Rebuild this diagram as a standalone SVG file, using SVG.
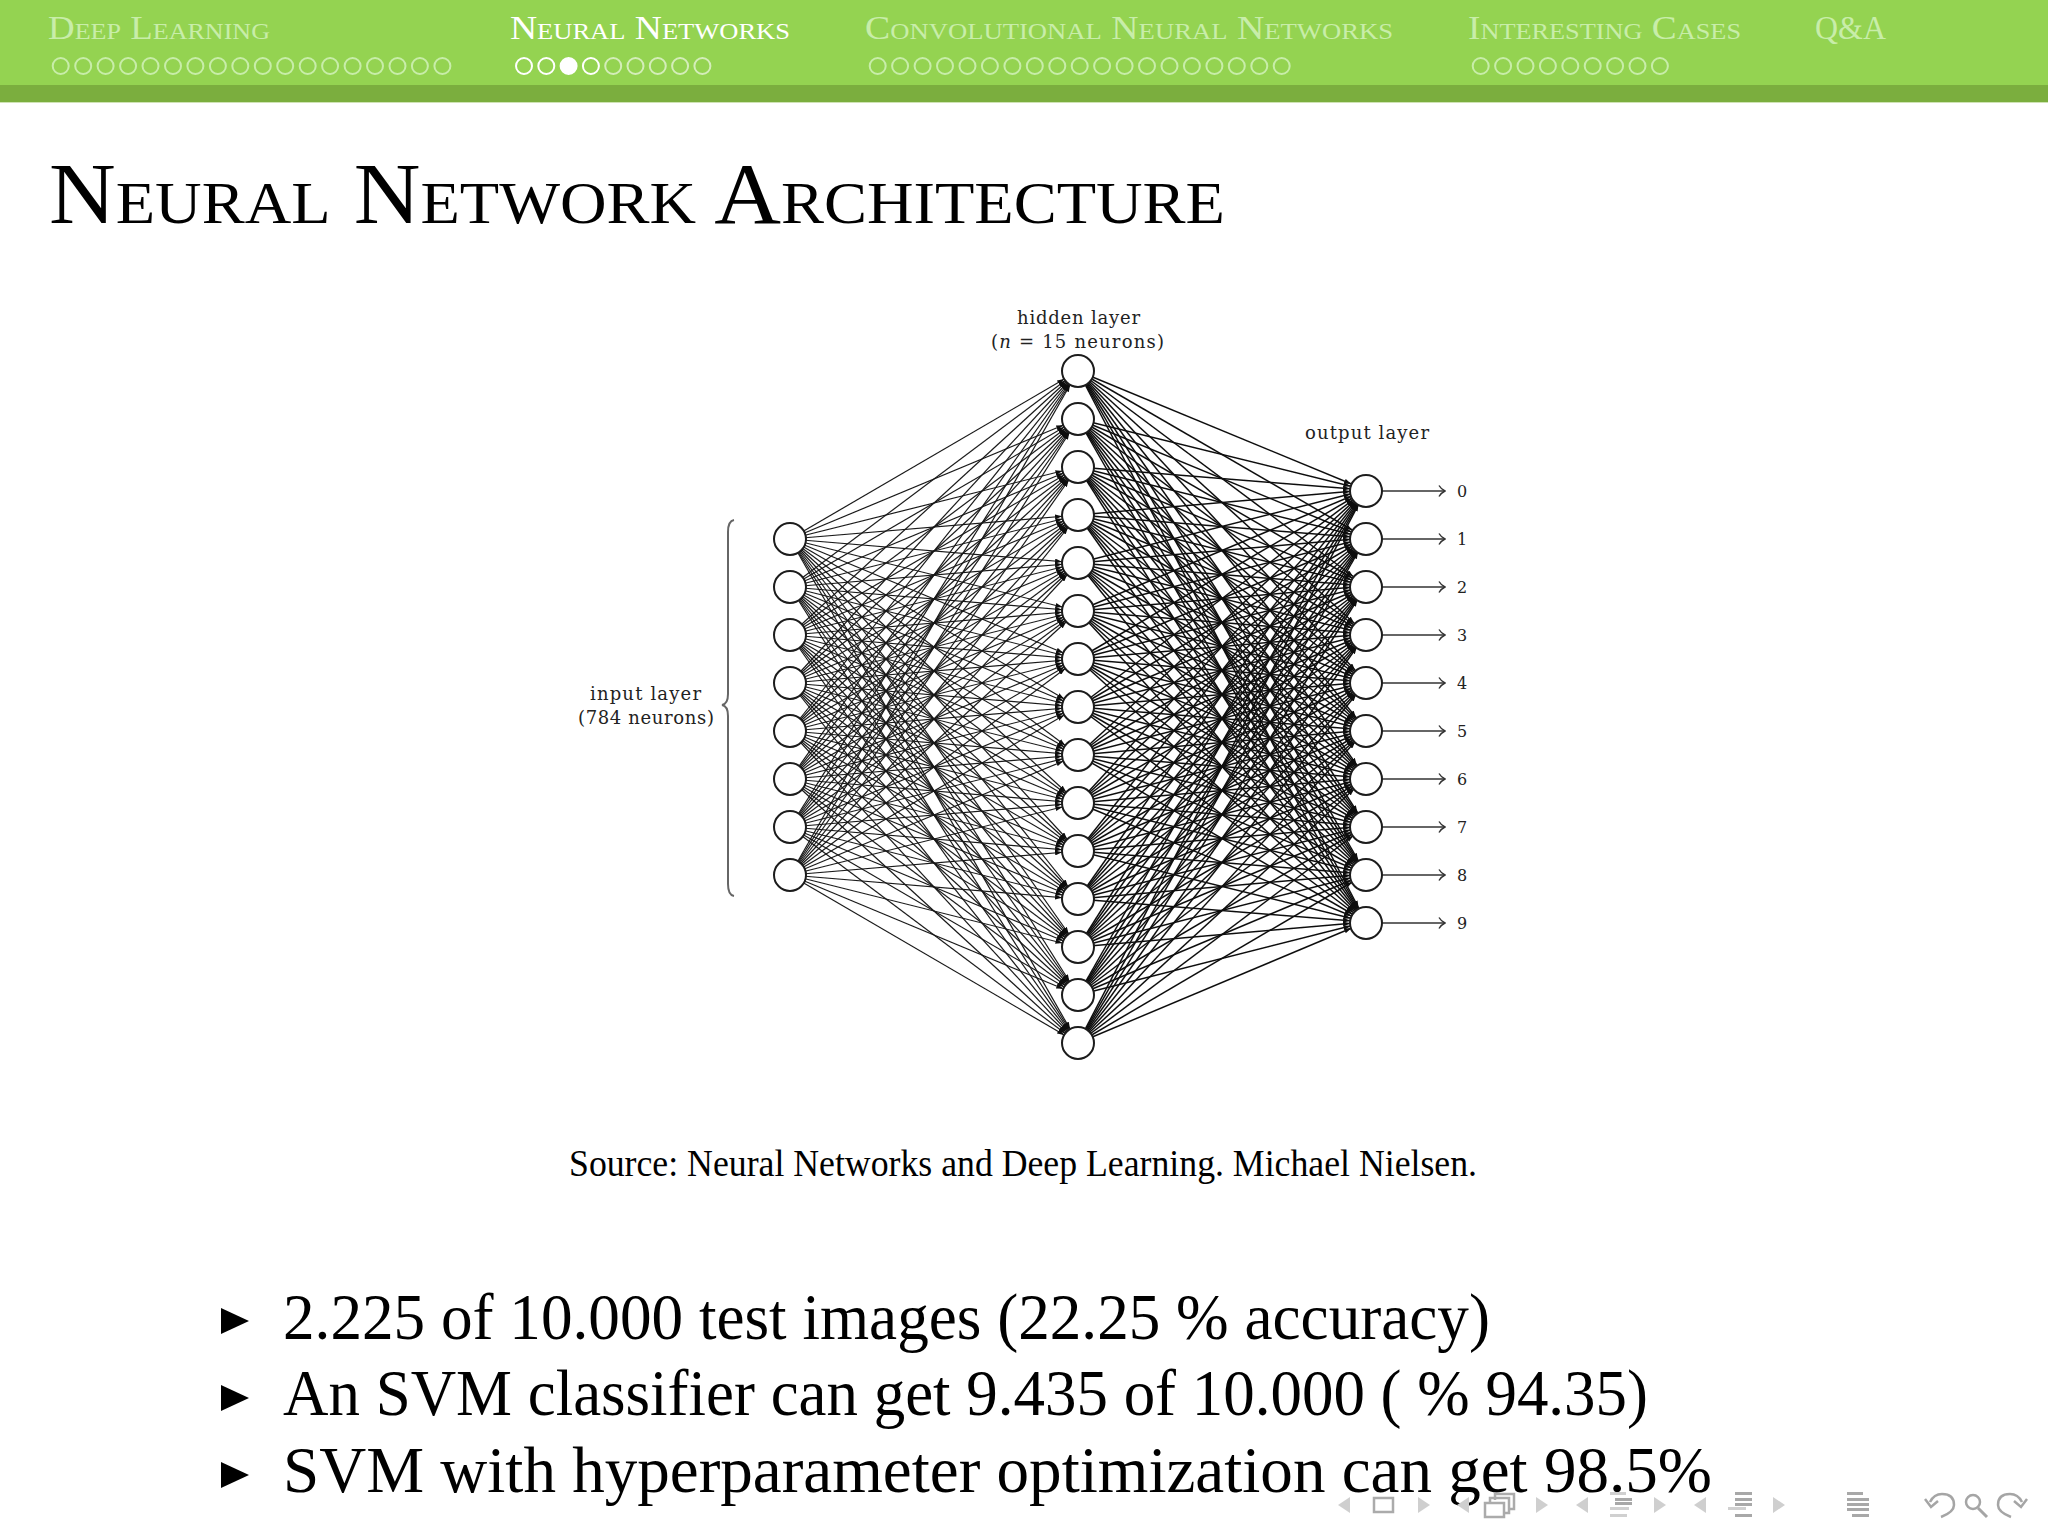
<svg xmlns="http://www.w3.org/2000/svg" width="2048" height="1536" viewBox="0 0 2048 1536">
<defs>
<style>
text{font-family:"Liberation Serif","Times New Roman",serif}
.nav{font-size:34px;font-variant:small-caps;fill:#c8eda9}
.on{fill:#fff}
.d{fill:none;stroke:#c8eda9;stroke-width:2}
.d.w{stroke:#fff}
.body{font-size:65px;fill:#000}
.lab{font-size:18px;fill:#222;font-family:"DejaVu Serif","Liberation Serif",serif}
.dig{font-size:16px;fill:#222;text-anchor:middle;font-family:"DejaVu Serif","Liberation Serif",serif}
.n{fill:#fff;stroke:#1c1c1c;stroke-width:2}
#conn path{fill:none;stroke:#1a1a1a;stroke-width:1.2;marker-end:url(#ah)}
#conn .b path{stroke:#111;stroke-width:1.5}
#outs path{fill:none;stroke:#333;stroke-width:1.6;marker-end:url(#oa)}
.t1{fill:#cfcfcf}
.ic{fill:none;stroke:#ababab;stroke-width:2.5}
.bar{fill:#a8a8a8}
.bar2{fill:#d0d0d0}
</style>
<filter id="soft" x="-5%" y="-5%" width="110%" height="110%"><feGaussianBlur stdDeviation="0.45"/></filter>
<marker id="ah" markerUnits="userSpaceOnUse" markerWidth="7" markerHeight="5" refX="23" refY="2.5" orient="auto"><path d="M0 0L7 2.5 0 5z" fill="#111"/></marker>
<marker id="oa" markerUnits="userSpaceOnUse" markerWidth="8" markerHeight="12" refX="7" refY="6" orient="auto"><path d="M1 .5Q3 4 7 6 3 8 1 11.5" fill="none" stroke="#333" stroke-width="1.4"/></marker>
</defs>
<rect width="2048" height="1536" fill="#fff"/>
<g id="navbar">
<rect width="2048" height="85" fill="#94d351"/>
<rect y="85" width="2048" height="17" fill="#7bae3e"/>
<rect y="102" width="2048" height="1" fill="#cfe3b4"/>
<text class="nav" x="48" y="39" textLength="222" lengthAdjust="spacingAndGlyphs">Deep Learning</text>
<text class="nav on" x="510" y="39" textLength="280" lengthAdjust="spacingAndGlyphs">Neural Networks</text>
<text class="nav" x="865" y="39" textLength="528" lengthAdjust="spacingAndGlyphs">Convolutional Neural Networks</text>
<text class="nav" x="1468" y="39" textLength="273" lengthAdjust="spacingAndGlyphs">Interesting Cases</text>
<text class="nav" x="1815" y="39" textLength="71" lengthAdjust="spacingAndGlyphs">Q&amp;A</text>
<g id="dots1" class="d">
<circle cx="60.7" cy="66" r="8"/><circle cx="83.2" cy="66" r="8"/><circle cx="105.6" cy="66" r="8"/><circle cx="128.1" cy="66" r="8"/><circle cx="150.5" cy="66" r="8"/><circle cx="173" cy="66" r="8"/><circle cx="195.4" cy="66" r="8"/><circle cx="217.9" cy="66" r="8"/><circle cx="240.3" cy="66" r="8"/><circle cx="262.8" cy="66" r="8"/><circle cx="285.2" cy="66" r="8"/><circle cx="307.7" cy="66" r="8"/><circle cx="330.1" cy="66" r="8"/><circle cx="352.6" cy="66" r="8"/><circle cx="375" cy="66" r="8"/><circle cx="397.5" cy="66" r="8"/><circle cx="419.9" cy="66" r="8"/><circle cx="442.4" cy="66" r="8"/>
</g>
<g id="dots2" class="d w">
<circle cx="524" cy="66" r="8"/><circle cx="546.3" cy="66" r="8"/><circle cx="568.6" cy="66" r="8" fill="#fff"/><circle cx="590.9" cy="66" r="8"/><circle cx="613.2" cy="66" r="8" opacity=".6"/><circle cx="635.5" cy="66" r="8" opacity=".6"/><circle cx="657.8" cy="66" r="8" opacity=".6"/><circle cx="680.1" cy="66" r="8" opacity=".6"/><circle cx="702.4" cy="66" r="8" opacity=".6"/>
</g>
<g id="dots3" class="d">
<circle cx="877.7" cy="66" r="8"/><circle cx="900.1" cy="66" r="8"/><circle cx="922.6" cy="66" r="8"/><circle cx="945" cy="66" r="8"/><circle cx="967.5" cy="66" r="8"/><circle cx="989.9" cy="66" r="8"/><circle cx="1012.4" cy="66" r="8"/><circle cx="1034.8" cy="66" r="8"/><circle cx="1057.3" cy="66" r="8"/><circle cx="1079.7" cy="66" r="8"/><circle cx="1102.1" cy="66" r="8"/><circle cx="1124.6" cy="66" r="8"/><circle cx="1147" cy="66" r="8"/><circle cx="1169.5" cy="66" r="8"/><circle cx="1191.9" cy="66" r="8"/><circle cx="1214.4" cy="66" r="8"/><circle cx="1236.8" cy="66" r="8"/><circle cx="1259.3" cy="66" r="8"/><circle cx="1281.7" cy="66" r="8"/>
</g>
<g id="dots4" class="d">
<circle cx="1480.7" cy="66" r="8"/><circle cx="1503.1" cy="66" r="8"/><circle cx="1525.5" cy="66" r="8"/><circle cx="1547.9" cy="66" r="8"/><circle cx="1570.3" cy="66" r="8"/><circle cx="1592.7" cy="66" r="8"/><circle cx="1615.1" cy="66" r="8"/><circle cx="1637.5" cy="66" r="8"/><circle cx="1659.9" cy="66" r="8"/>
</g>
</g>
<text id="title" x="49" y="223" font-size="86" font-variant="small-caps" textLength="1176" lengthAdjust="spacingAndGlyphs">Neural Network Architecture</text>
<g id="conn" filter="url(#soft)">
<path d="M790 539 1078 371"/><path d="M790 539 1078 419"/><path d="M790 539 1078 467"/><path d="M790 539 1078 515"/><path d="M790 539 1078 563"/><path d="M790 539 1078 611"/><path d="M790 539 1078 659"/><path d="M790 539 1078 707"/><path d="M790 539 1078 755"/><path d="M790 539 1078 803"/><path d="M790 539 1078 851"/><path d="M790 539 1078 899"/><path d="M790 539 1078 947"/><path d="M790 539 1078 995"/><path d="M790 539 1078 1043"/>
<path d="M790 587 1078 371"/><path d="M790 587 1078 419"/><path d="M790 587 1078 467"/><path d="M790 587 1078 515"/><path d="M790 587 1078 563"/><path d="M790 587 1078 611"/><path d="M790 587 1078 659"/><path d="M790 587 1078 707"/><path d="M790 587 1078 755"/><path d="M790 587 1078 803"/><path d="M790 587 1078 851"/><path d="M790 587 1078 899"/><path d="M790 587 1078 947"/><path d="M790 587 1078 995"/><path d="M790 587 1078 1043"/>
<path d="M790 635 1078 371"/><path d="M790 635 1078 419"/><path d="M790 635 1078 467"/><path d="M790 635 1078 515"/><path d="M790 635 1078 563"/><path d="M790 635 1078 611"/><path d="M790 635 1078 659"/><path d="M790 635 1078 707"/><path d="M790 635 1078 755"/><path d="M790 635 1078 803"/><path d="M790 635 1078 851"/><path d="M790 635 1078 899"/><path d="M790 635 1078 947"/><path d="M790 635 1078 995"/><path d="M790 635 1078 1043"/>
<path d="M790 683 1078 371"/><path d="M790 683 1078 419"/><path d="M790 683 1078 467"/><path d="M790 683 1078 515"/><path d="M790 683 1078 563"/><path d="M790 683 1078 611"/><path d="M790 683 1078 659"/><path d="M790 683 1078 707"/><path d="M790 683 1078 755"/><path d="M790 683 1078 803"/><path d="M790 683 1078 851"/><path d="M790 683 1078 899"/><path d="M790 683 1078 947"/><path d="M790 683 1078 995"/><path d="M790 683 1078 1043"/>
<path d="M790 731 1078 371"/><path d="M790 731 1078 419"/><path d="M790 731 1078 467"/><path d="M790 731 1078 515"/><path d="M790 731 1078 563"/><path d="M790 731 1078 611"/><path d="M790 731 1078 659"/><path d="M790 731 1078 707"/><path d="M790 731 1078 755"/><path d="M790 731 1078 803"/><path d="M790 731 1078 851"/><path d="M790 731 1078 899"/><path d="M790 731 1078 947"/><path d="M790 731 1078 995"/><path d="M790 731 1078 1043"/>
<path d="M790 779 1078 371"/><path d="M790 779 1078 419"/><path d="M790 779 1078 467"/><path d="M790 779 1078 515"/><path d="M790 779 1078 563"/><path d="M790 779 1078 611"/><path d="M790 779 1078 659"/><path d="M790 779 1078 707"/><path d="M790 779 1078 755"/><path d="M790 779 1078 803"/><path d="M790 779 1078 851"/><path d="M790 779 1078 899"/><path d="M790 779 1078 947"/><path d="M790 779 1078 995"/><path d="M790 779 1078 1043"/>
<path d="M790 827 1078 371"/><path d="M790 827 1078 419"/><path d="M790 827 1078 467"/><path d="M790 827 1078 515"/><path d="M790 827 1078 563"/><path d="M790 827 1078 611"/><path d="M790 827 1078 659"/><path d="M790 827 1078 707"/><path d="M790 827 1078 755"/><path d="M790 827 1078 803"/><path d="M790 827 1078 851"/><path d="M790 827 1078 899"/><path d="M790 827 1078 947"/><path d="M790 827 1078 995"/><path d="M790 827 1078 1043"/>
<path d="M790 875 1078 371"/><path d="M790 875 1078 419"/><path d="M790 875 1078 467"/><path d="M790 875 1078 515"/><path d="M790 875 1078 563"/><path d="M790 875 1078 611"/><path d="M790 875 1078 659"/><path d="M790 875 1078 707"/><path d="M790 875 1078 755"/><path d="M790 875 1078 803"/><path d="M790 875 1078 851"/><path d="M790 875 1078 899"/><path d="M790 875 1078 947"/><path d="M790 875 1078 995"/><path d="M790 875 1078 1043"/>
<g class="b">
<path d="M1078 371 1366 490"/><path d="M1078 371 1366 538"/><path d="M1078 371 1366 586"/><path d="M1078 371 1366 634"/><path d="M1078 371 1366 682"/><path d="M1078 371 1366 730"/><path d="M1078 371 1366 778"/><path d="M1078 371 1366 826"/><path d="M1078 371 1366 874"/><path d="M1078 371 1366 922"/>
<path d="M1078 419 1366 490"/><path d="M1078 419 1366 538"/><path d="M1078 419 1366 586"/><path d="M1078 419 1366 634"/><path d="M1078 419 1366 682"/><path d="M1078 419 1366 730"/><path d="M1078 419 1366 778"/><path d="M1078 419 1366 826"/><path d="M1078 419 1366 874"/><path d="M1078 419 1366 922"/>
<path d="M1078 467 1366 490"/><path d="M1078 467 1366 538"/><path d="M1078 467 1366 586"/><path d="M1078 467 1366 634"/><path d="M1078 467 1366 682"/><path d="M1078 467 1366 730"/><path d="M1078 467 1366 778"/><path d="M1078 467 1366 826"/><path d="M1078 467 1366 874"/><path d="M1078 467 1366 922"/>
<path d="M1078 515 1366 490"/><path d="M1078 515 1366 538"/><path d="M1078 515 1366 586"/><path d="M1078 515 1366 634"/><path d="M1078 515 1366 682"/><path d="M1078 515 1366 730"/><path d="M1078 515 1366 778"/><path d="M1078 515 1366 826"/><path d="M1078 515 1366 874"/><path d="M1078 515 1366 922"/>
<path d="M1078 563 1366 490"/><path d="M1078 563 1366 538"/><path d="M1078 563 1366 586"/><path d="M1078 563 1366 634"/><path d="M1078 563 1366 682"/><path d="M1078 563 1366 730"/><path d="M1078 563 1366 778"/><path d="M1078 563 1366 826"/><path d="M1078 563 1366 874"/><path d="M1078 563 1366 922"/>
<path d="M1078 611 1366 490"/><path d="M1078 611 1366 538"/><path d="M1078 611 1366 586"/><path d="M1078 611 1366 634"/><path d="M1078 611 1366 682"/><path d="M1078 611 1366 730"/><path d="M1078 611 1366 778"/><path d="M1078 611 1366 826"/><path d="M1078 611 1366 874"/><path d="M1078 611 1366 922"/>
<path d="M1078 659 1366 490"/><path d="M1078 659 1366 538"/><path d="M1078 659 1366 586"/><path d="M1078 659 1366 634"/><path d="M1078 659 1366 682"/><path d="M1078 659 1366 730"/><path d="M1078 659 1366 778"/><path d="M1078 659 1366 826"/><path d="M1078 659 1366 874"/><path d="M1078 659 1366 922"/>
<path d="M1078 707 1366 490"/><path d="M1078 707 1366 538"/><path d="M1078 707 1366 586"/><path d="M1078 707 1366 634"/><path d="M1078 707 1366 682"/><path d="M1078 707 1366 730"/><path d="M1078 707 1366 778"/><path d="M1078 707 1366 826"/><path d="M1078 707 1366 874"/><path d="M1078 707 1366 922"/>
<path d="M1078 755 1366 490"/><path d="M1078 755 1366 538"/><path d="M1078 755 1366 586"/><path d="M1078 755 1366 634"/><path d="M1078 755 1366 682"/><path d="M1078 755 1366 730"/><path d="M1078 755 1366 778"/><path d="M1078 755 1366 826"/><path d="M1078 755 1366 874"/><path d="M1078 755 1366 922"/>
<path d="M1078 803 1366 490"/><path d="M1078 803 1366 538"/><path d="M1078 803 1366 586"/><path d="M1078 803 1366 634"/><path d="M1078 803 1366 682"/><path d="M1078 803 1366 730"/><path d="M1078 803 1366 778"/><path d="M1078 803 1366 826"/><path d="M1078 803 1366 874"/><path d="M1078 803 1366 922"/>
<path d="M1078 851 1366 490"/><path d="M1078 851 1366 538"/><path d="M1078 851 1366 586"/><path d="M1078 851 1366 634"/><path d="M1078 851 1366 682"/><path d="M1078 851 1366 730"/><path d="M1078 851 1366 778"/><path d="M1078 851 1366 826"/><path d="M1078 851 1366 874"/><path d="M1078 851 1366 922"/>
<path d="M1078 899 1366 490"/><path d="M1078 899 1366 538"/><path d="M1078 899 1366 586"/><path d="M1078 899 1366 634"/><path d="M1078 899 1366 682"/><path d="M1078 899 1366 730"/><path d="M1078 899 1366 778"/><path d="M1078 899 1366 826"/><path d="M1078 899 1366 874"/><path d="M1078 899 1366 922"/>
<path d="M1078 947 1366 490"/><path d="M1078 947 1366 538"/><path d="M1078 947 1366 586"/><path d="M1078 947 1366 634"/><path d="M1078 947 1366 682"/><path d="M1078 947 1366 730"/><path d="M1078 947 1366 778"/><path d="M1078 947 1366 826"/><path d="M1078 947 1366 874"/><path d="M1078 947 1366 922"/>
<path d="M1078 995 1366 490"/><path d="M1078 995 1366 538"/><path d="M1078 995 1366 586"/><path d="M1078 995 1366 634"/><path d="M1078 995 1366 682"/><path d="M1078 995 1366 730"/><path d="M1078 995 1366 778"/><path d="M1078 995 1366 826"/><path d="M1078 995 1366 874"/><path d="M1078 995 1366 922"/>
<path d="M1078 1043 1366 490"/><path d="M1078 1043 1366 538"/><path d="M1078 1043 1366 586"/><path d="M1078 1043 1366 634"/><path d="M1078 1043 1366 682"/><path d="M1078 1043 1366 730"/><path d="M1078 1043 1366 778"/><path d="M1078 1043 1366 826"/><path d="M1078 1043 1366 874"/><path d="M1078 1043 1366 922"/>
</g>
</g>
<g id="outs">
<path d="M1382 491H1445"/><path d="M1382 539H1445"/><path d="M1382 587H1445"/><path d="M1382 635H1445"/><path d="M1382 683H1445"/><path d="M1382 731H1445"/><path d="M1382 779H1445"/><path d="M1382 827H1445"/><path d="M1382 875H1445"/><path d="M1382 923H1445"/>
</g>
<path id="brace" d="M734 520Q728 521 728 532V694Q728 704 722 705 728 706 728 716V884Q728 895 734 896" fill="none" stroke="#666" stroke-width="2"/>
<g id="input-layer">
<circle class="n" cx="790" cy="539" r="16"/><circle class="n" cx="790" cy="587" r="16"/><circle class="n" cx="790" cy="635" r="16"/><circle class="n" cx="790" cy="683" r="16"/><circle class="n" cx="790" cy="731" r="16"/><circle class="n" cx="790" cy="779" r="16"/><circle class="n" cx="790" cy="827" r="16"/><circle class="n" cx="790" cy="875" r="16"/>
<text class="lab" x="590" y="700" textLength="111">input layer</text>
<text class="lab" x="578" y="724" textLength="136">(784 neurons)</text>
</g>
<g id="hidden-layer">
<circle class="n" cx="1078" cy="371" r="16"/><circle class="n" cx="1078" cy="419" r="16"/><circle class="n" cx="1078" cy="467" r="16"/><circle class="n" cx="1078" cy="515" r="16"/><circle class="n" cx="1078" cy="563" r="16"/><circle class="n" cx="1078" cy="611" r="16"/><circle class="n" cx="1078" cy="659" r="16"/><circle class="n" cx="1078" cy="707" r="16"/><circle class="n" cx="1078" cy="755" r="16"/><circle class="n" cx="1078" cy="803" r="16"/><circle class="n" cx="1078" cy="851" r="16"/><circle class="n" cx="1078" cy="899" r="16"/><circle class="n" cx="1078" cy="947" r="16"/><circle class="n" cx="1078" cy="995" r="16"/><circle class="n" cx="1078" cy="1043" r="16"/>
<text class="lab" x="1017" y="324" textLength="123">hidden layer</text>
<text class="lab" x="991" y="348" textLength="173">(<tspan font-style="italic">n</tspan> = 15 neurons)</text>
</g>
<g id="output-layer">
<circle class="n" cx="1366" cy="491" r="16"/><circle class="n" cx="1366" cy="539" r="16"/><circle class="n" cx="1366" cy="587" r="16"/><circle class="n" cx="1366" cy="635" r="16"/><circle class="n" cx="1366" cy="683" r="16"/><circle class="n" cx="1366" cy="731" r="16"/><circle class="n" cx="1366" cy="779" r="16"/><circle class="n" cx="1366" cy="827" r="16"/><circle class="n" cx="1366" cy="875" r="16"/><circle class="n" cx="1366" cy="923" r="16"/>
<text class="lab" x="1305" y="439" textLength="124">output layer</text>
<text class="dig" x="1462" y="497">0</text><text class="dig" x="1462" y="545">1</text><text class="dig" x="1462" y="593">2</text><text class="dig" x="1462" y="641">3</text><text class="dig" x="1462" y="689">4</text><text class="dig" x="1462" y="737">5</text><text class="dig" x="1462" y="785">6</text><text class="dig" x="1462" y="833">7</text><text class="dig" x="1462" y="881">8</text><text class="dig" x="1462" y="929">9</text>
</g>
<text id="source" x="569" y="1176" font-size="38" textLength="908" lengthAdjust="spacingAndGlyphs">Source: Neural Networks and Deep Learning. Michael Nielsen.</text>
<g id="bullets">
<path d="M221 1308 249 1321 221 1334z"/><path d="M221 1385 249 1398 221 1411z"/><path d="M221 1462 249 1475 221 1488z"/>
<text class="body" x="283" y="1339" textLength="1207" lengthAdjust="spacingAndGlyphs">2.225 of 10.000 test images (22.25 % accuracy)</text>
<text class="body" x="283" y="1415" textLength="1365" lengthAdjust="spacingAndGlyphs">An SVM classifier can get 9.435 of 10.000 ( % 94.35)</text>
<text class="body" x="283" y="1492" textLength="1429" lengthAdjust="spacingAndGlyphs">SVM with hyperparameter optimization can get 98.5%</text>
</g>
<g id="beamer-nav">
<path class="t1" d="M1350 1497 1338 1505 1350 1513zM1418 1497 1430 1505 1418 1513zM1469 1497 1457 1505 1469 1513zM1536 1497 1548 1505 1536 1513zM1588 1497 1576 1505 1588 1513zM1654 1497 1666 1505 1654 1513zM1706 1497 1694 1505 1706 1513zM1773 1497 1785 1505 1773 1513z"/>
<rect class="ic" x="1374" y="1498" width="19" height="14"/>
<g class="ic"><path d="M1495 1500V1494H1514V1509H1508"/><path d="M1490 1503V1498H1509V1513H1503"/><rect x="1485" y="1503" width="19" height="14" fill="#fff" fill-opacity=".6"/></g>
<path class="bar2" d="M1610 1492h16v3h-16zM1610 1507h19v3h-19zM1610 1514h17v3h-17zM1728 1507h18v3h-18z"/>
<path class="bar" d="M1615 1498h17v3h-17zM1615 1502h17v3h-17zM1735 1492h17v3h-17zM1735 1498h17v3h-17zM1735 1503h17v3h-17zM1735 1514h17v3h-17zM1847 1492h16v3h-16zM1847 1498h22v3h-22zM1847 1503h22v3h-22zM1847 1508h22v3h-22zM1852 1514h17v3h-17z"/>
<g fill="none" stroke="#a5a5a5" stroke-width="2.5"><path d="M1941 1517Q1954 1512 1954 1505 1954 1494 1942 1494 1934 1494 1930 1502"/><path d="M1925 1499 1931 1507 1938 1501"/><circle cx="1973" cy="1502" r="7"/><path d="M1978 1508 1987 1517" stroke-width="3"/><path d="M2011 1517Q1998 1512 1998 1505 1998 1494 2010 1494 2018 1494 2022 1502"/><path d="M2027 1499 2021 1507 2014 1501"/></g>
</g>
</svg>
